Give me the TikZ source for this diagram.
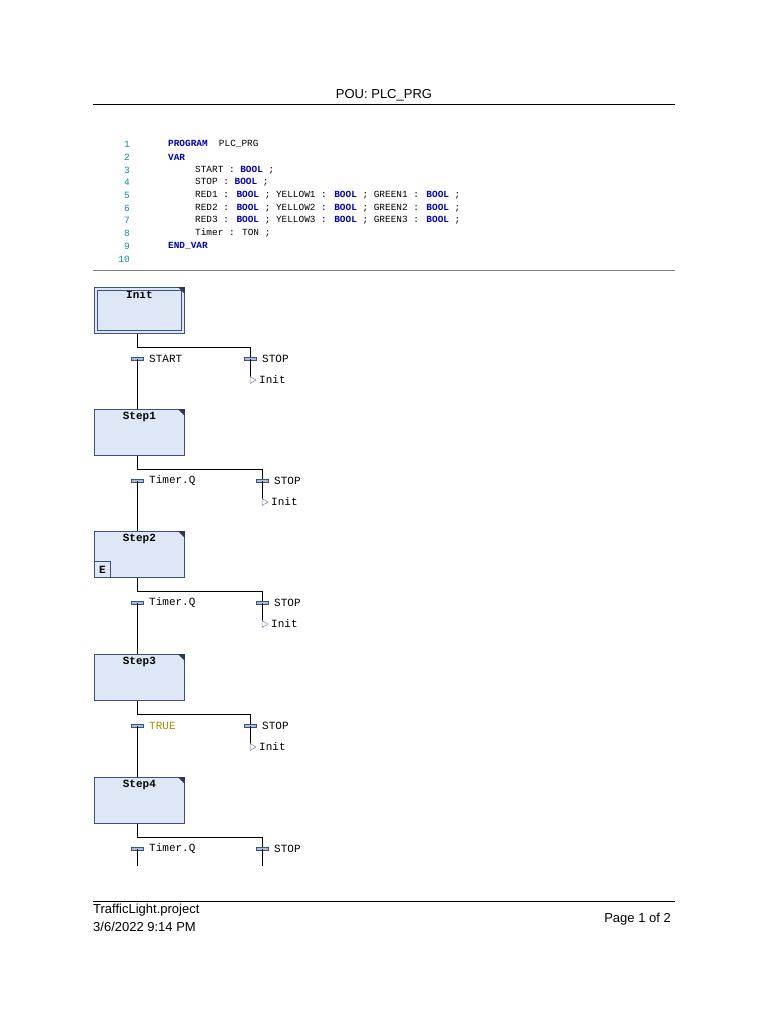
\documentclass[tikz,border=0pt]{standalone}
\usepackage{fontspec}
\setmainfont{Liberation Sans}
\newfontfamily\mono{Liberation Mono}
\begin{document}
\begin{tikzpicture}[x=1pt,y=-1pt,
  sfcstep/.style={draw=stepborder,fill=stepfill,line width=0.8pt,minimum width=90pt,minimum height=46pt,inner sep=0pt},
  lbl/.style={font=\mono\fontsize{11}{12}\selectfont,anchor=west,inner sep=0pt},
  num/.style={font=\mono\fontsize{9.5}{10}\selectfont,text=numcol,anchor=east,inner sep=0pt},
  code/.style={font=\mono\fontsize{9.4}{10}\selectfont,anchor=west,inner sep=0pt},
  bar/.style={draw=stepborder,fill=barfill,line width=0.5pt},
  wire/.style={line width=0.8pt,black},
  foot/.style={inner sep=0pt,font=\fontsize{13}{14}\selectfont}]
\definecolor{stepborder}{RGB}{60,80,130}
\definecolor{stepfill}{RGB}{222,231,246}
\definecolor{barfill}{RGB}{170,190,225}
\definecolor{numcol}{RGB}{0,150,150}
\definecolor{kw}{RGB}{0,0,190}
\definecolor{truecol}{RGB}{170,140,0}
\newcommand{\kw}[1]{\textcolor{kw}{\textbf{#1}}}
\useasboundingbox (0,0) rectangle (768,1024);
% header
\node[foot] (title) at (384,95) {POU: PLC\_PRG};
\draw[line width=0.6pt] (93,104) -- (675,104);
% code
\foreach \n/\y in {1/144,2/157,3/170,4/182,5/195,6/208,7/220,8/233,9/246,10/259}
  \node[num] (n\n) at (130,\y) {\n};
\node[code] (c1) at (168,144) {\kw{PROGRAM}\ \ PLC\_PRG};
\node[code] (c2) at (168,157) {\kw{VAR}};
\node[code] (c3) at (195,170) {START : \kw{BOOL} ;};
\node[code] (c4) at (195,182) {STOP : \kw{BOOL} ;};
\node[code] (c5) at (195,195) {RED1 : \kw{BOOL} ; YELLOW1 : \kw{BOOL} ; GREEN1 : \kw{BOOL} ;};
\node[code] (c6) at (195,208) {RED2 : \kw{BOOL} ; YELLOW2 : \kw{BOOL} ; GREEN2 : \kw{BOOL} ;};
\node[code] (c7) at (195,220) {RED3 : \kw{BOOL} ; YELLOW3 : \kw{BOOL} ; GREEN3 : \kw{BOOL} ;};
\node[code] (c8) at (195,233) {Timer : TON ;};
\node[code] (c9) at (168,246) {\kw{END\_VAR}};
\draw[line width=0.5pt,gray] (93,270) -- (675,270);
% steps
\foreach \name/\txt/\y/\rx/\cond/\col in {s0/Init/287/250/START/black,s1/Step1/409/262/Timer.Q/black,s2/Step2/531/262/Timer.Q/black,s3/Step3/654/250/TRUE/truecol,s4/Step4/777/262/Timer.Q/black}{
  \node[sfcstep,anchor=north west] (\name) at (94,\y) {};
  \node[font=\mono\bfseries\fontsize{11}{12}\selectfont,anchor=north,inner sep=0pt] (\name t) at ([yshift=-3pt]\name.north) {\txt};
  \fill[stepborder!70!black] ([xshift=-7pt]\name.north east) -- (\name.north east) -- ([yshift=-7pt]\name.north east) -- cycle;
  \coordinate (\name b) at (137,\y+60);
  \coordinate (\name r) at (\rx,\y+60);
  \coordinate (\name c) at (137,\y+72);
  \coordinate (\name d) at (\rx,\y+72);
  \draw[wire] (\name.south -| \name b) -- (\name b) -- (\name r) -- (\name d);
  \draw[bar] ([xshift=-6pt,yshift=-1.5pt]\name c) rectangle ([xshift=6pt,yshift=1.5pt]\name c);
  \draw[bar] ([xshift=-6pt,yshift=-1.5pt]\name d) rectangle ([xshift=6pt,yshift=1.5pt]\name d);
  \node[lbl,text=\col] (\name cl) at ([xshift=12pt]\name c) {\cond};
  \node[lbl] (\name dl) at ([xshift=12pt]\name d) {STOP};
}
\draw[stepborder,line width=0.8pt] ([xshift=3pt,yshift=-3pt]s0.north west) rectangle ([xshift=-3pt,yshift=3pt]s0.south east);
% E action qualifier
\node[draw=stepborder,fill=stepfill,line width=0.6pt,anchor=south west,minimum width=16pt,minimum height=16pt,inner sep=0pt,font=\mono\bfseries\fontsize{11}{12}\selectfont] (s2e) at (s2.south west) {E};
% connections down / jumps
\draw[wire] (s0c) -- (s1.north -| s0c);
\draw[wire] (s1c) -- (s2.north -| s1c);
\draw[wire] (s2c) -- (s3.north -| s2c);
\draw[wire] (s3c) -- (s4.north -| s3c);
\coordinate (s4e) at (137,866);
\coordinate (s4f) at (262,866);
\draw[wire] (s4c) -- (s4e);
\draw[wire] (s4d) -- (s4f);
\foreach \name/\rx/\y in {s0/250/380,s1/262/502,s2/262/624,s3/250/747}{
  \coordinate (\name j) at (\rx,\y);
  \draw[wire] (\name d) -- ([yshift=3pt]\name j);
  \draw[draw=stepborder!70,fill=white,line width=0.5pt] ([yshift=-3.5pt]\name j) -- ([xshift=6pt]\name j) -- ([yshift=3.5pt]\name j) -- cycle;
  \node[lbl] (\name jl) at ([xshift=9pt]\name j) {Init};
}
% footer
\draw[line width=0.6pt] (93,901) -- (675,901);
\node[foot,anchor=west] (f1) at (93,910) {TrafficLight.project};
\node[foot,anchor=west] (f2) at (93,927) {3/6/2022 9:14 PM};
\node[foot,anchor=east] (f3) at (671,919) {Page 1 of 2};
\end{tikzpicture}
\end{document}
